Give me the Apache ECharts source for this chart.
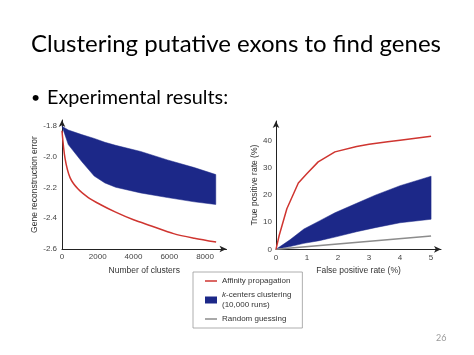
<!DOCTYPE html>
<html>
<head>
<meta charset="utf-8">
<script src="https://cdn.jsdelivr.net/npm/echarts@6/dist/echarts.min.js"></script>
<style>
html,body{margin:0;padding:0;background:#fff;}
#c{width:474px;height:355px;}
</style>
</head>
<body>
<div id="c"></div>
<script>
// ---- Data ----
// Left panel: gene reconstruction error vs number of clusters
var clusterXs      = [0, 350, 1100, 1800, 2400, 3000, 4400, 5900, 7400, 8600];
var kcUpperLeft    = [-1.80, -1.825, -1.855, -1.88, -1.905, -1.925, -1.965, -2.02, -2.07, -2.115];
var kcLowerLeft    = [-1.80, -1.92, -2.03, -2.125, -2.17, -2.198, -2.235, -2.265, -2.293, -2.31];
var apXsLeft       = [0, 170, 450, 900, 1470, 2140, 3000, 4000, 5000, 6240, 7400, 8620];
var apLeft         = [-1.83, -2.01, -2.135, -2.21, -2.265, -2.31, -2.36, -2.41, -2.45, -2.5, -2.53, -2.555];

// Right panel: true positive rate (%) vs false positive rate (%)
var fprXs          = [0, 0.45, 0.9, 1.4, 1.9, 2.6, 3.2, 4.0, 5.0];
var kcUpperRight   = [0, 3.5, 7.5, 10.5, 13.5, 17, 20, 23.5, 27];
var kcLowerRight   = [0, 1.0, 2.2, 3.2, 4.5, 6.5, 8, 9.8, 11.1];
var apXsRight      = [0, 0.1, 0.35, 0.72, 1.0, 1.36, 1.9, 2.6, 3.0, 3.6, 4.0, 5.0];
var apRight        = [0, 5, 15, 24.5, 28, 32.3, 36, 38, 38.8, 39.7, 40.3, 41.8];
var randXs         = [0, 5];
var randRight      = [0, 4.9];

var seriesNames = ['Affinity propagation', 'k-centers clustering', 'Random guessing'];
var titleText = 'Clustering putative exons to find genes';
var bulletText = 'Experimental results:';
var pageNum = '26';

// ---- Build ----
function pairs(xs, ys){ return xs.map(function(x,i){ return [x, ys[i]]; }); }
function bandRows(xs, lo, up){ return xs.map(function(x,i){ return [x, lo[i], up[i]]; }); }

// band polygon drawn through the axis scales (api.coord)
function bandRenderer(rows){
  return function(params, api){
    if (params.dataIndex !== 0) return null;
    var pts = [];
    for (var i = 0; i < rows.length; i++) pts.push(api.coord([rows[i][0], rows[i][2]]));
    for (var j = rows.length - 1; j >= 0; j--) pts.push(api.coord([rows[j][0], rows[j][1]]));
    return {type:'polygon', shape:{points:pts}, style:{fill:api.visual('color'), stroke:api.visual('color'), lineWidth:0.5}};
  };
}

var RED = '#cf3530', NAVY = '#1c2888', GRAY = '#8c8c8c';
var labelFont = {fontFamily:'Liberation Sans', fontSize:8, color:'#444'};
var nameFont = {fontFamily:'Liberation Sans', fontSize:8.5, color:'#333'};
var axisLine = {show:true, lineStyle:{color:'#222', width:1}, symbol:['none','arrow'], symbolSize:[5,7]};
var lineIcon = 'path://M0,0 L24,0 L24,3 L0,3 Z';

var leftRows = bandRows(clusterXs, kcLowerLeft, kcUpperLeft);
var rightRows = bandRows(fprXs, kcLowerRight, kcUpperRight);

var chart = echarts.init(document.getElementById('c'), null, {renderer:'canvas'});
chart.setOption({
  backgroundColor:'#fff',
  animation:false,
  title:[
    {text:titleText, left:31, top:32, padding:0, textStyle:{fontFamily:'Lato', fontSize:24, fontWeight:'normal', color:'#000'}},
    {text:'\u2022', left:31, top:90, padding:0, textStyle:{fontFamily:'Lato', fontSize:16, fontWeight:'normal', color:'#000'}},
    {text:bulletText, left:47, top:88, padding:0, textStyle:{fontFamily:'Lato', fontSize:19.8, fontWeight:'normal', color:'#000'}},
    {text:pageNum, left:436, top:334, padding:0, textStyle:{fontFamily:'Lato', fontSize:9, fontWeight:'normal', color:'#9a9a9a'}}
  ],
  legend:{
    orient:'vertical', left:193, top:272,
    padding:[4,11,4,12],
    itemGap:4, itemWidth:12, itemHeight:7,
    borderColor:'#9a9a9a', borderWidth:0.8, borderRadius:0,
    selectedMode:false, symbolKeepAspect:true,
    textStyle:{fontFamily:'Liberation Sans', fontSize:8, color:'#333', lineHeight:10,
      rich:{i:{fontStyle:'italic', fontFamily:'Liberation Sans', fontSize:8, color:'#333', lineHeight:10},
            n:{fontFamily:'Liberation Sans', fontSize:8, color:'#333', lineHeight:10}}},
    formatter:function(name){
      if(name === seriesNames[1]) return '{i|k}{n|-centers clustering}\n{n|(10,000 runs)}';
      return name;
    },
    data:[
      {name:seriesNames[0], icon:lineIcon, itemStyle:{color:RED}},
      {name:seriesNames[1], icon:'rect', itemStyle:{color:NAVY}},
      {name:seriesNames[2], icon:lineIcon, itemStyle:{color:GRAY}}
    ]
  },
  grid:[
    {left:62, top:120, width:164.5, height:129},
    {left:276, top:121, width:165, height:128.3}
  ],
  xAxis:[
    {type:'value', gridIndex:0, min:0, max:9200, interval:2000, splitLine:{show:false}, axisTick:{show:false},
     axisLine:axisLine, axisLabel:Object.assign({margin:4, showMaxLabel:false, formatter:function(v){return String(v);}}, labelFont),
     name:'Number of clusters', nameLocation:'middle', nameGap:17, nameTextStyle:nameFont},
    {type:'value', gridIndex:1, min:0, max:5.32, interval:1, splitLine:{show:false}, axisTick:{show:false},
     axisLine:axisLine, axisLabel:Object.assign({margin:4, showMaxLabel:false, formatter:function(v){return String(v);}}, labelFont),
     name:'False positive rate (%)', nameLocation:'middle', nameGap:17, nameTextStyle:nameFont}
  ],
  yAxis:[
    {type:'value', gridIndex:0, min:-2.6, max:-1.76, interval:0.2, splitLine:{show:false}, axisTick:{show:false},
     axisLine:axisLine, axisLabel:Object.assign({margin:5, showMaxLabel:false, formatter:function(v){return v.toFixed(1);}}, labelFont),
     name:'Gene reconstruction error', nameLocation:'middle', nameGap:21, nameTextStyle:nameFont},
    {type:'value', gridIndex:1, min:0, max:47.4, interval:10, splitLine:{show:false}, axisTick:{show:false},
     axisLine:axisLine, axisLabel:Object.assign({margin:4, showMaxLabel:false, formatter:function(v){return String(v);}}, labelFont),
     name:'True positive rate (%)', nameLocation:'middle', nameGap:16, nameTextStyle:nameFont}
  ],
  series:[
    {name:seriesNames[1], type:'custom', xAxisIndex:0, yAxisIndex:0, itemStyle:{color:NAVY},
     renderItem:bandRenderer(leftRows), encode:{x:0, y:[1,2]}, data:leftRows, silent:true, z:1},
    {name:seriesNames[0], type:'line', xAxisIndex:0, yAxisIndex:0, symbol:'none', smooth:0.3,
     lineStyle:{width:1.5, color:RED}, itemStyle:{color:RED}, data:pairs(apXsLeft, apLeft), z:2},

    {name:seriesNames[1], type:'custom', xAxisIndex:1, yAxisIndex:1, itemStyle:{color:NAVY},
     renderItem:bandRenderer(rightRows), encode:{x:0, y:[1,2]}, data:rightRows, silent:true, z:1},
    {name:seriesNames[2], type:'line', xAxisIndex:1, yAxisIndex:1, symbol:'none',
     lineStyle:{width:1.5, color:GRAY}, itemStyle:{color:GRAY}, data:pairs(randXs, randRight), z:2},
    {name:seriesNames[0], type:'line', xAxisIndex:1, yAxisIndex:1, symbol:'none',
     lineStyle:{width:1.5, color:RED}, itemStyle:{color:RED}, data:pairs(apXsRight, apRight), z:2}
  ]
});
</script>
</body>
</html>
